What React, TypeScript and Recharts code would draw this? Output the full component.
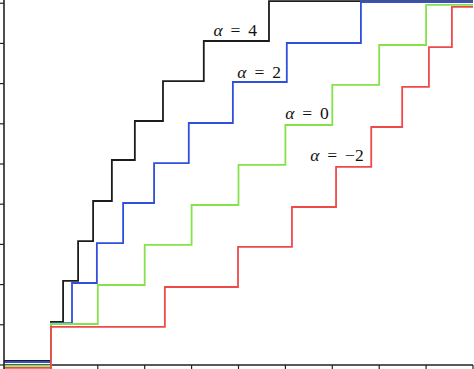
import React from 'react';
import { LineChart, Line, XAxis, YAxis, ReferenceLine, ReferenceDot } from 'recharts';

// step positions (x where each level starts) and levels
const xBlack = [0, 1, 1.26, 1.58, 1.9, 2.3, 2.79, 3.39, 4.26, 5.65, 10];
const yBlack = [0.1, 1.07, 2.09, 3.08, 4.08, 5.1, 6.07, 7.06, 8.06, 9.05, 9.05];

const xBlue = [0, 1, 1.45, 1.98, 2.54, 3.2, 3.94, 4.88, 6.03, 7.61, 10];
const yBlue = [0.07, 1.04, 2.04, 3.03, 4.03, 5.02, 6.02, 7.04, 8.01, 9.03, 9.03];

const xGreen = [0, 1, 2, 3, 4, 5, 6, 7, 8, 9, 10];
const yGreen = [-0.02, 1.02, 1.99, 2.99, 3.98, 4.98, 5.97, 6.97, 7.96, 8.96, 8.96];

const xRed = [0, 1, 3.43, 4.99, 6.14, 7.08, 7.83, 8.49, 9.06, 9.55, 10];
const yRed = [-0.07, 0.95, 1.94, 2.94, 3.93, 4.93, 5.92, 6.92, 7.91, 8.91, 8.91];

const xTicks = [1, 2, 3, 4, 5, 6, 7, 8, 9, 10];
const yTicks = [0, 1, 2, 3, 4, 5, 6, 7, 8, 9];

const labelAlpha = ['4', '2', '0', '\u22122'];
const labelX = [4.93, 5.44, 6.46, 7.1];
const labelY = [8.33, 7.29, 6.27, 5.22];

const Y_MIN = -0.1;

const toPoints = (xs: number[], ys: number[]) => xs.map((x, i) => ({ x, y: ys[i] }));

const series = [
  { name: 'black', data: toPoints(xBlack, yBlack), color: '#1c1c1c' },
  { name: 'blue', data: toPoints(xBlue, yBlue), color: '#2f4fdc' },
  { name: 'green', data: toPoints(xGreen, yGreen), color: '#86e24a' },
  { name: 'red', data: toPoints(xRed, yRed), color: '#ef4a4a' },
];

const alphaLabel = (value: string) => (props: any) => {
  const vb = props.viewBox || {};
  const cx = vb.x + (vb.width || 0) / 2;
  const cy = vb.y + (vb.height || 0) / 2;
  return (
    <text x={cx} y={cy} textAnchor="middle" dominantBaseline="central"
      fontFamily="'Liberation Serif', serif" fontSize={17.5} fill="#111"
      style={{ wordSpacing: 3.5 }}>
      <tspan fontStyle="italic">α</tspan>
      <tspan>{' = ' + value}</tspan>
    </text>
  );
};

const App: React.FC = () => {
  return (
    <div style={{ position: 'absolute', left: 0, top: 0, width: 474, height: 369, background: '#fff' }}>
      <LineChart width={474} height={369} margin={{ top: 0, right: 1, bottom: 0, left: 0 }}>
        <XAxis type="number" dataKey="x" domain={[0, 10]} allowDataOverflow hide />
        <YAxis type="number" domain={[Y_MIN, 9.08]} ticks={yTicks} allowDataOverflow
          width={4} tickSize={4} tickFormatter={() => ''}
          axisLine={{ stroke: '#222', strokeWidth: 1.6 }}
          tickLine={{ stroke: '#222', strokeWidth: 1.2 }} />
        <ReferenceLine y={0} stroke="#222" strokeWidth={1.4} />
        {xTicks.map((t) => (
          <ReferenceLine key={'t' + t} segment={[{ x: t, y: Y_MIN }, { x: t, y: 0 }]}
            stroke="#222" strokeWidth={1.2} ifOverflow="visible" />
        ))}
        {series.map((s) => (
          <Line key={s.name} data={s.data} dataKey="y" type="stepAfter" stroke={s.color}
            strokeWidth={1.8} dot={false} activeDot={false} isAnimationActive={false} />
        ))}
        {labelAlpha.map((a, i) => (
          <ReferenceDot key={a} x={labelX[i]} y={labelY[i]} r={0} stroke="none" fill="none"
            label={alphaLabel(a)} />
        ))}
      </LineChart>
    </div>
  );
};

export default App;
